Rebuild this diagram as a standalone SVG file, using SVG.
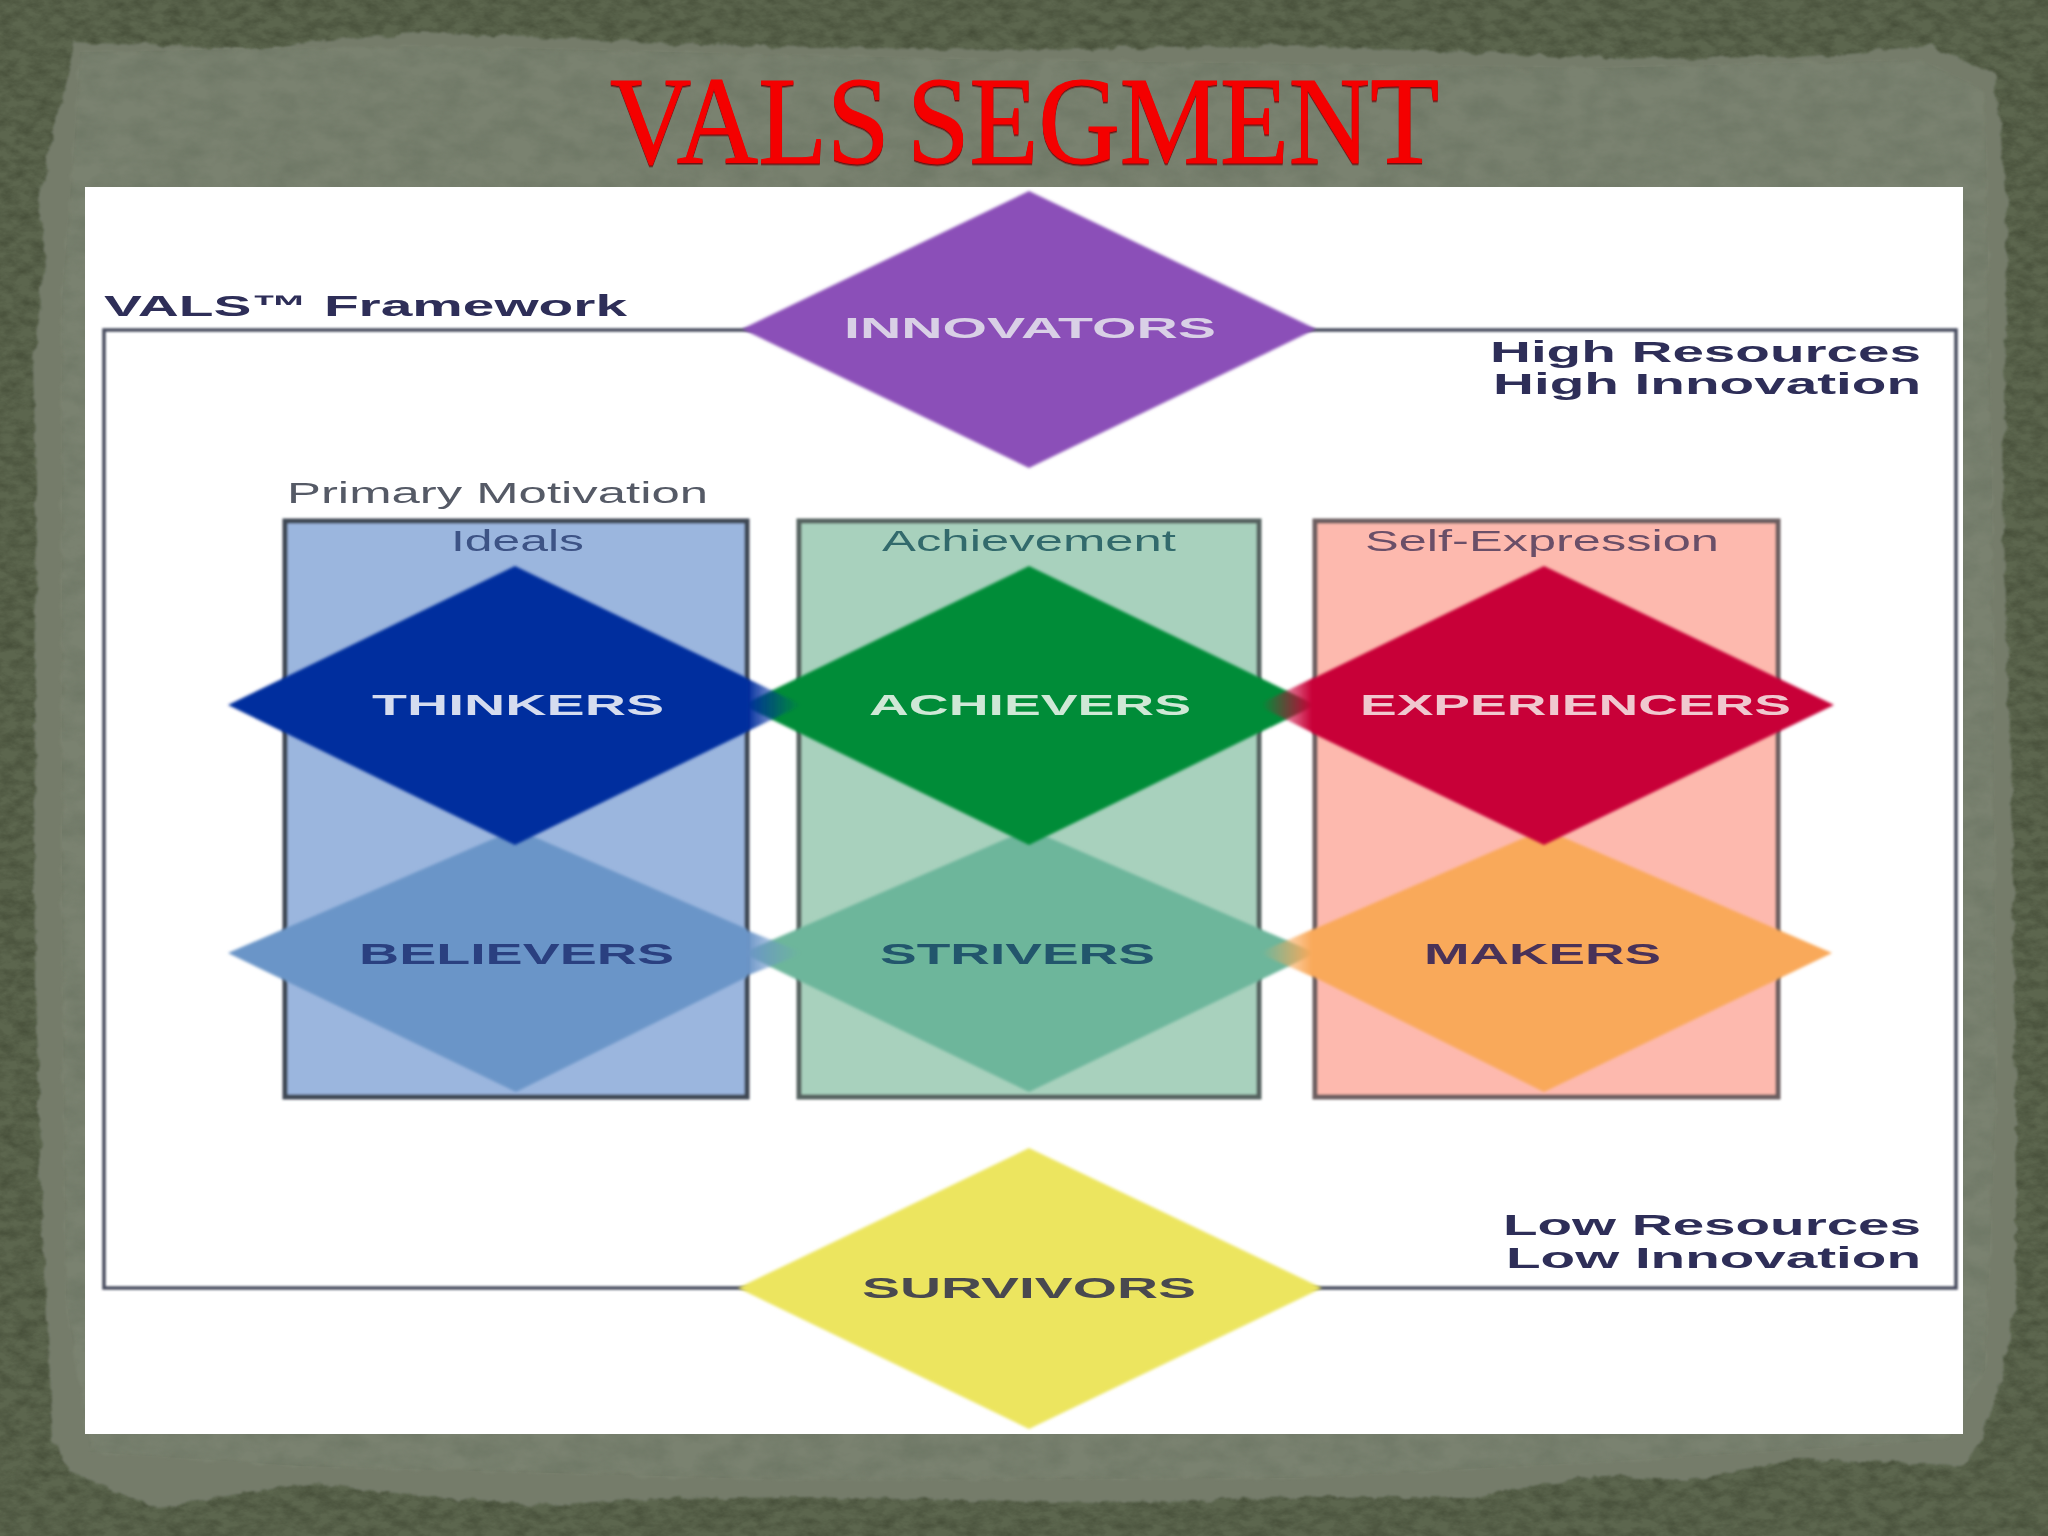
<svg xmlns="http://www.w3.org/2000/svg" width="2048" height="1536" viewBox="0 0 2048 1536">
<style>
.lab{font-family:"Liberation Sans",Arial,sans-serif;font-weight:700;font-size:30px}
.reg{font-family:"Liberation Sans",Arial,sans-serif;font-weight:400;font-size:29px}
.nav{fill:#2e2f58}
.col{stroke-width:5}
.frame{fill:none;stroke:#484e60;stroke-width:3.5}
</style>
<defs>
<filter id="grain" x="0" y="0" width="100%" height="100%" color-interpolation-filters="sRGB">
<feTurbulence type="fractalNoise" baseFrequency="0.06 0.1" numOctaves="5" seed="7"/>
<feColorMatrix type="matrix" values="0 0 0 0 0.25  0 0 0 0 0.28  0 0 0 0 0.2  1.3 0 0 0 -0.42"/>
</filter>
<filter id="grain2" x="0" y="0" width="100%" height="100%" color-interpolation-filters="sRGB">
<feTurbulence type="fractalNoise" baseFrequency="0.03 0.05" numOctaves="4" seed="3"/>
<feColorMatrix type="matrix" values="0 0 0 0 0.4  0 0 0 0 0.44  0 0 0 0 0.37  1 0 0 0 -0.33"/>
<feComposite in2="SourceGraphic" operator="in"/>
</filter>
<filter id="torn" x="-2%" y="-2%" width="104%" height="104%">
<feTurbulence type="fractalNoise" baseFrequency="0.06" numOctaves="4" seed="11" result="n"/>
<feDisplacementMap in="SourceGraphic" in2="n" scale="9" xChannelSelector="R" yChannelSelector="G"/>
<feGaussianBlur stdDeviation="0.8"/>
</filter>
<filter id="soft" x="-5%" y="-5%" width="110%" height="110%"><feGaussianBlur stdDeviation="1"/></filter>
<filter id="softer" x="-5%" y="-5%" width="110%" height="110%"><feGaussianBlur stdDeviation="1.4"/></filter>
<filter id="txt" x="-5%" y="-20%" width="110%" height="140%"><feGaussianBlur stdDeviation="0.75"/></filter>
<filter id="ttl" x="-5%" y="-10%" width="110%" height="125%" color-interpolation-filters="sRGB"><feDropShadow dx="0" dy="1.5" stdDeviation="0.5" flood-color="#6a1414"/></filter>
<linearGradient id="fadeBlue" gradientUnits="userSpaceOnUse" x1="747" y1="0" x2="800" y2="0">
<stop offset="0" stop-color="#002d9e"/><stop offset="1" stop-color="#002d9e" stop-opacity="0"/>
</linearGradient>
<linearGradient id="fadeRed" gradientUnits="userSpaceOnUse" x1="1262" y1="0" x2="1312" y2="0">
<stop offset="0" stop-color="#c80037" stop-opacity="0"/><stop offset="1" stop-color="#c80037"/>
</linearGradient>
<linearGradient id="fadeSky" gradientUnits="userSpaceOnUse" x1="747" y1="0" x2="800" y2="0">
<stop offset="0" stop-color="#6b95c8"/><stop offset="1" stop-color="#6b95c8" stop-opacity="0"/>
</linearGradient>
<linearGradient id="fadeOrange" gradientUnits="userSpaceOnUse" x1="1262" y1="0" x2="1312" y2="0">
<stop offset="0" stop-color="#f9a95a" stop-opacity="0"/><stop offset="1" stop-color="#f9a95a"/>
</linearGradient>
</defs>
<g id="background">
<rect width="2048" height="1536" fill="#5c664e"/>
<rect width="2048" height="1536" filter="url(#grain)"/>
<polygon filter="url(#torn)" fill="#747c6a" points="74,42 268,50 295,43 424,32 700,45 1000,50 1300,46 1600,57 1800,58 1929,45 1995,75 2007,200 2005,300 2003,500 2012,800 2016,1100 2016,1300 2001,1380 1982,1440 1963,1465 1796,1460 1682,1480 1596,1476 1476,1497 1300,1497 1100,1503 800,1497 612,1500 561,1506 408,1495 316,1483 219,1497 158,1508 71,1473 53,1440 46,1300 41,1200 34,900 36,480 33,367 45,270 40,200 49,150 67,80"/>
<polygon fill="#7a8270" filter="url(#torn)" points="80,52 424,46 1000,60 1600,68 1920,60 1985,90 1992,500 1996,1100 1985,1370 1950,1440 1600,1462 1300,1478 800,1480 300,1466 90,1452 66,1300 62,900 62,300 76,120"/>
<polygon filter="url(#grain2)" points="80,52 424,46 1000,60 1600,68 1920,60 1985,90 1992,500 1996,1100 1985,1370 1950,1440 1600,1462 1300,1478 800,1480 300,1466 90,1452 66,1300 62,900 62,300 76,120"/>
</g>
<text id="title" x="610" y="163" font-family="'Liberation Serif','Times New Roman',serif" font-size="124" fill="#f40000" stroke="#f40000" stroke-width="1" word-spacing="-12" textLength="829" lengthAdjust="spacingAndGlyphs" filter="url(#ttl)">VALS SEGMENT</text>
<rect id="panel" x="85" y="187" width="1878" height="1247" fill="#fff"/>
<g id="connectors" filter="url(#soft)">
<rect class="frame" x="104" y="330" width="1852" height="958"/>
</g>
<g id="column-ideals" filter="url(#soft)">
<rect class="col" stroke="#3f4854" x="285" y="521" width="462" height="576" fill="#9bb6de"/>
</g>
<g id="column-achievement" filter="url(#soft)">
<rect class="col" stroke="#566360" x="799" y="521" width="460" height="576" fill="#a8d1bd"/>
</g>
<g id="column-self-expression" filter="url(#soft)">
<rect class="col" stroke="#6d5f60" x="1315" y="521" width="463" height="576" fill="#fdb9ae"/>
</g>
<g id="strivers" filter="url(#softer)">
<polygon points="742,953 1029,829 1316,953 1029,1092" fill="#6db69b"/>
</g>
<g id="believers" filter="url(#softer)">
<polygon points="228,953 516,829 747,929 747,977 516,1092" fill="#6b95c8"/>
<polygon points="746,930 804,953 746,976" fill="url(#fadeSky)"/>
</g>
<g id="makers" filter="url(#softer)">
<polygon points="1312,930 1544,829 1832,953 1544,1092 1312,976" fill="#f9a95a"/>
<polygon points="1258,953 1313,929 1313,977" fill="url(#fadeOrange)"/>
</g>
<g id="achievers" filter="url(#softer)">
<polygon points="742,705 1029,566 1316,705 1029,845" fill="#008c37"/>
</g>
<g id="thinkers" filter="url(#softer)">
<polygon points="228,705 515,566 747,678 747,732 515,845" fill="#002d9e"/>
<polygon points="746,678 802,705 746,732" fill="url(#fadeBlue)"/>
</g>
<g id="experiencers" filter="url(#softer)">
<polygon points="1312,679 1544,566 1834,705 1544,845 1312,733" fill="#c80037"/>
<polygon points="1257,705 1313,678 1313,733" fill="url(#fadeRed)"/>
</g>
<g id="innovators" filter="url(#softer)">
<polygon points="742,329 1029,191 1316,329 1029,468" fill="#8b50b8"/>
</g>
<g id="survivors" filter="url(#softer)">
<polygon points="738,1288 1029,1148 1322,1288 1029,1429" fill="#ece55e"/>
</g>
<g id="labels" filter="url(#txt)">
<text class="lab nav" x="104" y="316" textLength="523" lengthAdjust="spacingAndGlyphs">VALS™ Framework</text>
<text class="lab nav" x="1490" y="362" textLength="431" lengthAdjust="spacingAndGlyphs">High Resources</text>
<text class="lab nav" x="1493" y="394" textLength="428" lengthAdjust="spacingAndGlyphs">High Innovation</text>
<text class="reg" fill="#555a66" x="287" y="503" textLength="421" lengthAdjust="spacingAndGlyphs">Primary Motivation</text>
<text class="reg" fill="#3d5285" x="451" y="551" textLength="133" lengthAdjust="spacingAndGlyphs">Ideals</text>
<text class="reg" fill="#336a6c" x="882" y="551" textLength="294" lengthAdjust="spacingAndGlyphs">Achievement</text>
<text class="reg" fill="#6b4f68" x="1365" y="551" textLength="354" lengthAdjust="spacingAndGlyphs">Self-Expression</text>
<text class="lab" fill="#d9d0e6" x="844" y="338" textLength="372" lengthAdjust="spacingAndGlyphs">INNOVATORS</text>
<text class="lab" fill="#d5dcef" x="372" y="715" textLength="292" lengthAdjust="spacingAndGlyphs">THINKERS</text>
<text class="lab" fill="#cfe8d6" x="869" y="715" textLength="322" lengthAdjust="spacingAndGlyphs">ACHIEVERS</text>
<text class="lab" fill="#f0c8cf" x="1360" y="715" textLength="431" lengthAdjust="spacingAndGlyphs">EXPERIENCERS</text>
<text class="lab" fill="#2b4080" x="359" y="964" textLength="315" lengthAdjust="spacingAndGlyphs">BELIEVERS</text>
<text class="lab" fill="#22566c" x="880" y="964" textLength="275" lengthAdjust="spacingAndGlyphs">STRIVERS</text>
<text class="lab" fill="#4a3258" x="1424" y="964" textLength="237" lengthAdjust="spacingAndGlyphs">MAKERS</text>
<text class="lab" fill="#4a4a50" x="862" y="1298" textLength="334" lengthAdjust="spacingAndGlyphs">SURVIVORS</text>
<text class="lab nav" x="1503" y="1235" textLength="418" lengthAdjust="spacingAndGlyphs">Low Resources</text>
<text class="lab nav" x="1506" y="1268" textLength="415" lengthAdjust="spacingAndGlyphs">Low Innovation</text>
</g>
</svg>
